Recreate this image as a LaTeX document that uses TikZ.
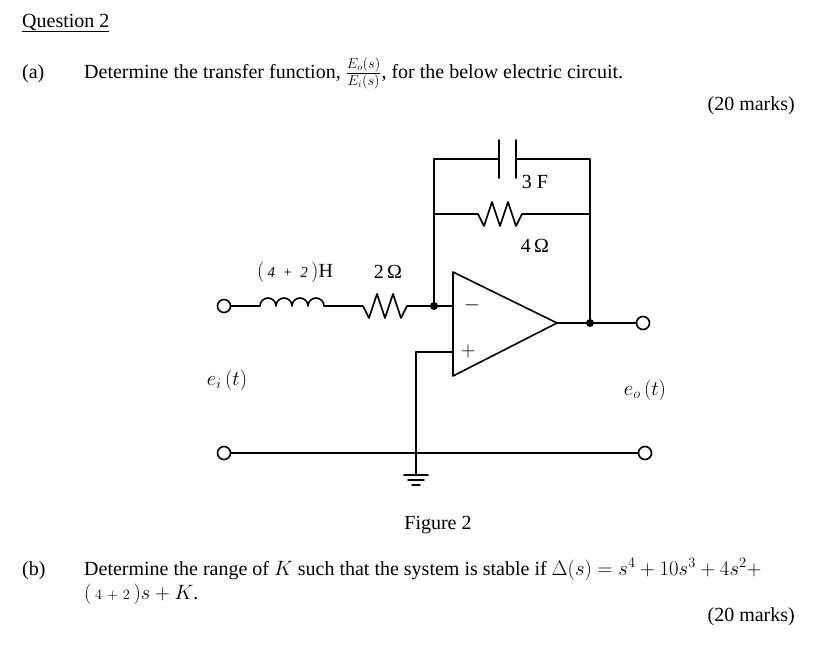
\documentclass[tikz,border=0pt]{standalone}
\usepackage{fontspec}
\setmainfont{Liberation Serif}
\begin{document}
\begin{tikzpicture}[x=1pt,y=-1pt,
  wire/.style={line width=1.6pt,line cap=round,line join=round},
  term/.style={circle,draw,line width=1.6pt,fill=white,minimum size=13pt,inner sep=0pt},
  dot/.style={circle,fill,minimum size=8pt,inner sep=0pt},
  txt/.style={font=\fontsize{20}{24}\selectfont,inner sep=0pt},
  lab/.style={font=\fontsize{20}{24}\selectfont,inner sep=0pt}]
\useasboundingbox (0,0) rectangle (838,656);
% text
\node[txt,anchor=base west] (q) at (22,27) {\underline{Question 2}};
\node[txt,anchor=base west] (a) at (22,78) {(a)};
\node[txt,anchor=base west] (ta) at (84,78) {Determine the transfer function, $\frac{E_o(s)}{E_i(s)}$, for the below electric circuit.};
\node[txt,anchor=base east] (m1) at (795,110) {(20 marks)};
\node[txt,anchor=base] (fig) at (438,529) {Figure 2};
\node[txt,anchor=base west] (b) at (22,575) {(b)};
\node[txt,anchor=base west] (tb) at (84,575) {Determine the range of $K$ such that the system is stable if $\Delta(s)=s^4+10s^3+4s^2+$};
\node[txt,anchor=base west] (tb2) at (84,599) {$(\,{\scriptstyle 4\ +\ 2}\,)s+K$.};
\node[txt,anchor=base east] (m2) at (795,621) {(20 marks)};
% nodes
\node[term] (ti) at (224,306) {};
\node[term] (tg1) at (224,453) {};
\node[term] (to) at (643,323) {};
\node[term] (tg2) at (645,453) {};
\node[dot] (j1) at (434,306) {};
\node[dot] (j2) at (590,323) {};
\coordinate (l1) at (260,306);
\coordinate (r1) at (358,306);
\coordinate (r2) at (415,306);
% input branch
\draw[wire] (ti) -- (l1) arc(180:360:8) arc(180:360:8) arc(180:360:8) arc(180:360:8) -- (r1)
  -- ++(5,0) -- ++(6,12) -- ++(8,-24) -- ++(8,24) -- ++(8,-24) -- ++(8,24) -- ++(6,-12) -- (r2) -- (j1);
% op amp
\coordinate (oa1) at (453,272);
\coordinate (oa2) at (453,376);
\coordinate (oat) at (557,323);
\draw[wire] (oa1) -- (oat) -- (oa2) -- cycle;
\node[lab] (mi) at (472,305) {$-$};
\node[lab] (pl) at (468,351) {$+$};
\draw[wire] (j1) -- (453,306);
\draw[wire] (oat) -- (j2) -- (to);
% feedback
\draw[wire] (j1) -- (434,159) -- (499,159);
\draw[wire] (499,140) -- (499,178);
\draw[wire] (516,140) -- (516,178);
\draw[wire] (516,159) -- (590,159) -- (j2);
\draw[wire] (434,214) -- (478,214) -- ++(6,12) -- ++(8,-24) -- ++(8,24) -- ++(8,-24) -- ++(8,24) -- ++(6,-12) -- ++(3,0) -- (590,214);
% plus input and ground
\draw[wire] (453,352) -- (416,352) -- (416,475);
\draw[wire] (404,475) -- (428,475);
\draw[wire] (408,480) -- (424,480);
\draw[wire] (412,485) -- (420,485);
\draw[wire] (tg1) -- (tg2);
% labels
\node[lab] (lL) at (295,272) {$($\,{\itshape\fontsize{15}{18}\selectfont 4 \ + \ 2}\,$)$H};
\node[lab] (lR) at (388,272) {2\,Ω};
\node[lab] (lC) at (535,182) {3 F};
\node[lab] (lR2) at (535,246) {4\,Ω};
\node[lab] (ei) at (227,380) {$e_i\,(t)$};
\node[lab] (eo) at (645,390) {$e_o\,(t)$};
\end{tikzpicture}
\end{document}
